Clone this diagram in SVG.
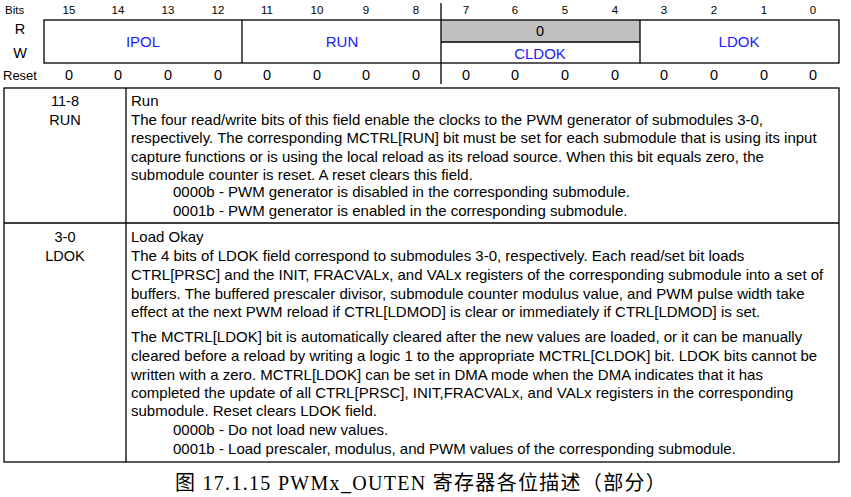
<svg xmlns="http://www.w3.org/2000/svg" width="851" height="497" viewBox="0 0 851 497">
<style>
text{font-family:"Liberation Sans",Arial,sans-serif;fill:#000}
.b{font-size:11.5px;text-anchor:middle}
.r{font-size:14.5px;text-anchor:middle}
.f{font-size:15px;text-anchor:middle;fill:#1a1aff}
.t{font-size:15px}
.ln{stroke:#000;stroke-width:1.3;fill:none}
</style>
<rect width="851" height="497" fill="#fff"/>
<g id="register">
<rect x="441" y="20" width="199" height="22" fill="#c0c0c0"/>
<rect x="44" y="20" width="795" height="43" class="ln"/>
<line x1="242" y1="20" x2="242" y2="63" class="ln"/>
<line x1="441" y1="3" x2="441" y2="84" class="ln"/>
<line x1="640" y1="20" x2="640" y2="63" class="ln"/>
<line x1="441" y1="42" x2="640" y2="42" class="ln"/>
<text x="5" y="14" style="font-size:11.5px">Bits</text>
<text x="20" y="34" class="r">R</text>
<text x="20" y="58" class="r">W</text>
<text x="3" y="80" style="font-size:13px">Reset</text>
<g class="b">
<text x="69" y="14">15</text><text x="118" y="14">14</text><text x="168" y="14">13</text><text x="218" y="14">12</text>
<text x="267" y="14">11</text><text x="317" y="14">10</text><text x="366" y="14">9</text><text x="416" y="14">8</text>
<text x="466" y="14">7</text><text x="515" y="14">6</text><text x="565" y="14">5</text><text x="615" y="14">4</text>
<text x="664" y="14">3</text><text x="714" y="14">2</text><text x="764" y="14">1</text><text x="813" y="14">0</text>
</g>
<g class="r">
<text x="69" y="80">0</text><text x="118" y="80">0</text><text x="168" y="80">0</text><text x="218" y="80">0</text>
<text x="267" y="80">0</text><text x="317" y="80">0</text><text x="366" y="80">0</text><text x="416" y="80">0</text>
<text x="466" y="80">0</text><text x="515" y="80">0</text><text x="565" y="80">0</text><text x="615" y="80">0</text>
<text x="664" y="80">0</text><text x="714" y="80">0</text><text x="764" y="80">0</text><text x="813" y="80">0</text>
<text x="540" y="36">0</text>
</g>
<text x="143" y="47" class="f">IPOL</text>
<text x="342" y="47" class="f">RUN</text>
<text x="540" y="59" class="f">CLDOK</text>
<text x="739" y="47" class="f">LDOK</text>
</g>
<g id="table">
<rect x="4" y="88" width="835" height="374" class="ln"/>
<line x1="126" y1="88" x2="126" y2="462" class="ln"/>
<line x1="4" y1="223" x2="839" y2="223" class="ln"/>
<text x="65" y="106" class="r">11-8</text>
<text x="65" y="125" class="r">RUN</text>
<g class="t">
<text x="131" y="106">Run</text>
<text x="131" y="125">The four read/write bits of this field enable the clocks to the PWM generator of submodules 3-0,</text>
<text x="131" y="143">respectively. The corresponding MCTRL[RUN] bit must be set for each submodule that is using its input</text>
<text x="131" y="162">capture functions or is using the local reload as its reload source. When this bit equals zero, the</text>
<text x="131" y="180">submodule counter is reset. A reset clears this field.</text>
<text x="173" y="197">0000b - PWM generator is disabled in the corresponding submodule.</text>
<text x="173" y="216">0001b - PWM generator is enabled in the corresponding submodule.</text>
</g>
<text x="65" y="242" class="r">3-0</text>
<text x="65" y="261" class="r">LDOK</text>
<g class="t">
<text x="131" y="242">Load Okay</text>
<text x="131" y="261">The 4 bits of LDOK field correspond to submodules 3-0, respectively. Each read/set bit loads</text>
<text x="131" y="280">CTRL[PRSC] and the INIT, FRACVALx, and VALx registers of the corresponding submodule into a set of</text>
<text x="131" y="299">buffers. The buffered prescaler divisor, submodule counter modulus value, and PWM pulse width take</text>
<text x="131" y="317">effect at the next PWM reload if CTRL[LDMOD] is clear or immediately if CTRL[LDMOD] is set.</text>
<text x="131" y="342">The MCTRL[LDOK] bit is automatically cleared after the new values are loaded, or it can be manually</text>
<text x="131" y="361">cleared before a reload by writing a logic 1 to the appropriate MCTRL[CLDOK] bit. LDOK bits cannot be</text>
<text x="131" y="380">written with a zero. MCTRL[LDOK] can be set in DMA mode when the DMA indicates that it has</text>
<text x="131" y="398">completed the update of all CTRL[PRSC], INIT,FRACVALx, and VALx registers in the corresponding</text>
<text x="131" y="416">submodule. Reset clears LDOK field.</text>
<text x="173" y="435">0000b - Do not load new values.</text>
<text x="173" y="454">0001b - Load prescaler, modulus, and PWM values of the corresponding submodule.</text>
</g>
</g>
<text x="421" y="490" style="font-family:'Liberation Serif','Noto Sans CJK SC',serif;font-size:20px;letter-spacing:1.3px;text-anchor:middle">图 17.1.15 PWMx_OUTEN 寄存器各位描述（部分）</text>
</svg>
